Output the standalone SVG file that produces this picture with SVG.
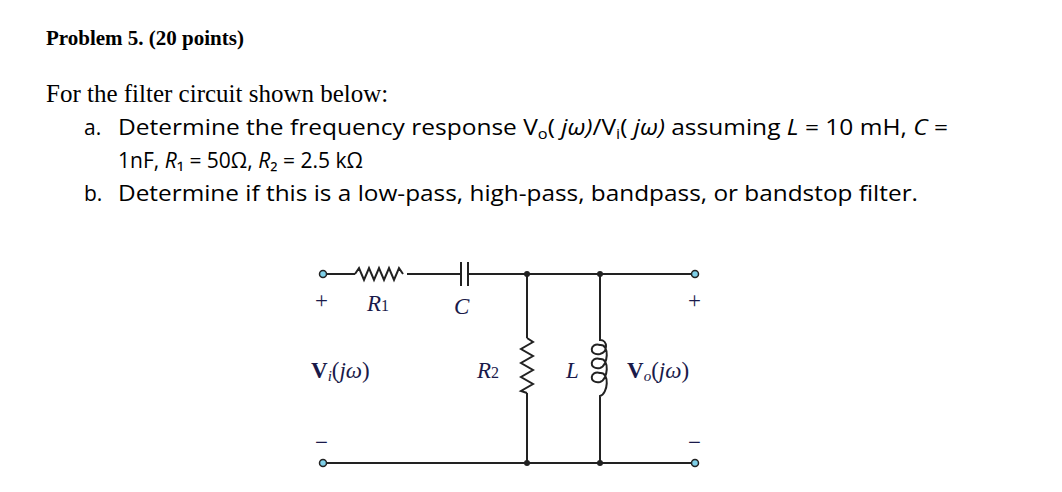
<svg xmlns="http://www.w3.org/2000/svg" width="1062" height="492" viewBox="0 0 1062 492">
<style>
.s{font-family:"Liberation Serif",serif;fill:#000}
.c{font-family:"Open Sans","Liberation Sans",sans-serif;font-size:21px;fill:#000}
.w{stroke:#222;stroke-width:2;fill:none}
.l{font-family:"Liberation Serif",serif;font-size:23px;fill:#1a1a4a}
.t{fill:#7fd0e8;stroke:#222;stroke-width:1.5}
.d{fill:#222}
</style>
<rect width="1062" height="492" fill="#fff"/>
<text class="s" x="46" y="45" font-size="21" font-weight="bold">Problem 5. (20 points)</text>
<text class="s" x="46" y="102" font-size="25">For the filter circuit shown below:</text>
<text class="c" x="84" y="135">a.</text>
<text class="c" x="118" y="135" textLength="830" lengthAdjust="spacingAndGlyphs">Determine the frequency response V<tspan font-size="14" dy="4">o</tspan><tspan dy="-4">( </tspan><tspan font-style="italic">jω)</tspan>/V<tspan font-size="14" dy="4">i</tspan><tspan dy="-4">( </tspan><tspan font-style="italic">jω)</tspan> assuming <tspan font-style="italic">L</tspan> = 10 mH, <tspan font-style="italic">C</tspan> =</text>
<text class="c" x="118" y="168">1nF, <tspan font-style="italic">R</tspan>₁ = 50Ω, <tspan font-style="italic">R</tspan>₂ = 2.5 kΩ</text>
<text class="c" x="84" y="201">b.</text>
<text class="c" x="118" y="201" textLength="800" lengthAdjust="spacingAndGlyphs">Determine if this is a low-pass, high-pass, bandpass, or bandstop filter.</text>
<g id="connectors">
<path class="w" d="M323 274H355M407 274H461M468 274H695M323 463H695M527 274V338M527 393V463M600 274V333M600 403V463"/>
</g>
<g id="R1"><path class="w" d="M355 274l4 -6l5 12l5 -12l5 12l5 -12l5 12l5 -12l5 12l5 -12l4 6"/></g>
<g id="C"><path class="w" stroke-width="2.5" d="M461 262V286M468 262V286"/></g>
<g id="R2"><path class="w" d="M527 338l6 4l-12 7l12 7l-12 7l12 7l-12 7l12 7l-12 7l6 2"/></g>
<g id="L"><path class="w" d="M600 333V340C608 340 608 352 600 354C588 356 590 342 600 345C610 344 608 366 600 368C588 370 590 356 600 359C610 358 608 380 600 382C588 384 590 370 600 373C610 372 608 394 600 396V403"/></g>
<g id="nodes">
<circle class="d" cx="527" cy="274" r="3"/><circle class="d" cx="600" cy="274" r="3"/>
<circle class="d" cx="527" cy="463" r="3"/><circle class="d" cx="600" cy="463" r="3"/>
<circle class="t" cx="323" cy="274" r="3.5"/><circle class="t" cx="695" cy="274" r="3.5"/>
<circle class="t" cx="323" cy="463" r="3.5"/><circle class="t" cx="695" cy="463" r="3.5"/>
</g>
<g id="labels">
<text class="l" x="315" y="308">+</text><text class="l" x="688" y="308">+</text>
<text class="l" x="315" y="450">−</text><text class="l" x="688" y="450">−</text>
<text class="l" x="367" y="311" font-style="italic">R<tspan font-style="normal" font-size="16">1</tspan></text>
<text class="l" x="454" y="314" font-style="italic">C</text>
<text class="l" x="311" y="378"><tspan font-weight="bold">V</tspan><tspan font-size="15" font-style="italic" dy="3">i</tspan><tspan dy="-3">(</tspan><tspan font-style="italic">jω</tspan>)</text>
<text class="l" x="477" y="378" font-style="italic">R<tspan font-style="normal" font-size="16">2</tspan></text>
<text class="l" x="566" y="378" font-style="italic">L</text>
<text class="l" x="627" y="378"><tspan font-weight="bold">V</tspan><tspan font-size="15" font-style="italic" dy="3">o</tspan><tspan dy="-3">(</tspan><tspan font-style="italic">jω</tspan>)</text>
</g>
</svg>
